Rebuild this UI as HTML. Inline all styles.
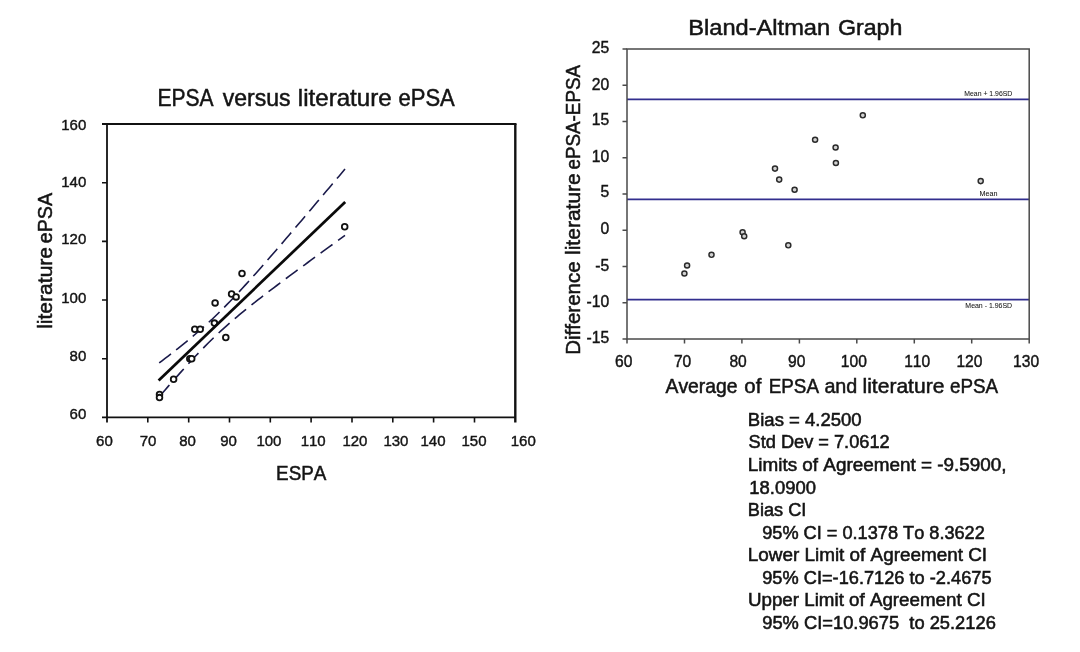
<!DOCTYPE html>
<html lang="en"><head><meta charset="utf-8"><title>Bland-Altman</title>
<style>html,body{margin:0;padding:0;background:#fff}body{width:1080px;height:652px;overflow:hidden}svg{display:block}text{font-family:"Liberation Sans",sans-serif;fill:#141414;stroke:#141414;font-kerning:none;white-space:pre}</style>
</head><body>
<svg width="1080" height="652" viewBox="0 0 1080 652">
<rect width="1080" height="652" fill="#fff"/>
<g id="left-chart">
<g stroke="#111" fill="none">
<line x1="102" y1="124" x2="516.5" y2="124" stroke-width="2.2"/>
<line x1="515.3" y1="124" x2="515.3" y2="422.4" stroke-width="2.4"/>
<line x1="107" y1="124" x2="107" y2="422.4" stroke-width="1.8"/>
<line x1="102" y1="417.4" x2="515.3" y2="417.4" stroke-width="1.8"/>
<path d="M147.8 417.4V422.4M188.7 417.4V422.4M229.5 417.4V422.4M270.3 417.4V422.4M311.1 417.4V422.4M352.0 417.4V422.4M392.8 417.4V422.4M433.6 417.4V422.4M474.5 417.4V422.4M102 182.7H107M102 241.4H107M102 300.0H107M102 358.7H107" stroke-width="1.6"/>
</g>
<text x="157.43" y="106.3" font-size="23.2" stroke-width="0.5" textLength="56.06" lengthAdjust="spacingAndGlyphs">EPSA</text>
<text x="222.77" y="106.3" font-size="23.2" stroke-width="0.5" textLength="67.81" lengthAdjust="spacingAndGlyphs">versus</text>
<text x="297.83" y="106.3" font-size="23.2" stroke-width="0.5" textLength="93.80" lengthAdjust="spacingAndGlyphs">literature</text>
<text x="398.52" y="106.3" font-size="23.2" stroke-width="0.5" textLength="56.28" lengthAdjust="spacingAndGlyphs">ePSA</text>
<text x="86.3" y="130" font-size="15.0" text-anchor="end" stroke-width="0.42">160</text>
<text x="86.3" y="187.4" font-size="15.0" text-anchor="end" stroke-width="0.42">140</text>
<text x="86.3" y="244.2" font-size="15.0" text-anchor="end" stroke-width="0.42">120</text>
<text x="86.3" y="302.8" font-size="15.0" text-anchor="end" stroke-width="0.42">100</text>
<text x="86.3" y="360.8" font-size="15.0" text-anchor="end" stroke-width="0.42">80</text>
<text x="86.3" y="418.9" font-size="15.0" text-anchor="end" stroke-width="0.42">60</text>
<text x="104.4" y="446.3" font-size="15.0" text-anchor="middle" stroke-width="0.42">60</text>
<text x="148" y="446.3" font-size="15.0" text-anchor="middle" stroke-width="0.42">70</text>
<text x="187.6" y="446.3" font-size="15.0" text-anchor="middle" stroke-width="0.42">80</text>
<text x="228.6" y="446.3" font-size="15.0" text-anchor="middle" stroke-width="0.42">90</text>
<text x="268.9" y="446.3" font-size="15.0" text-anchor="middle" stroke-width="0.42">100</text>
<text x="313.2" y="446.3" font-size="15.0" text-anchor="middle" stroke-width="0.42">110</text>
<text x="354.9" y="446.3" font-size="15.0" text-anchor="middle" stroke-width="0.42">120</text>
<text x="395.9" y="446.3" font-size="15.0" text-anchor="middle" stroke-width="0.42">130</text>
<text x="433" y="446.3" font-size="15.0" text-anchor="middle" stroke-width="0.42">140</text>
<text x="474" y="446.3" font-size="15.0" text-anchor="middle" stroke-width="0.42">150</text>
<text x="523.3" y="446.3" font-size="15.0" text-anchor="middle" stroke-width="0.42">160</text>
<text x="276.10" y="480.3" font-size="19.8" stroke-width="0.5" textLength="50.28" lengthAdjust="spacingAndGlyphs">ESPA</text>
<text transform="translate(52.4 328.87) rotate(-90)" font-size="20.6" stroke-width="0.5" textLength="81.96" lengthAdjust="spacingAndGlyphs">literature</text>
<text transform="translate(52.4 243.29) rotate(-90)" font-size="20.6" stroke-width="0.5" textLength="50.48" lengthAdjust="spacingAndGlyphs">ePSA</text>
<path d="M158.9 363.2 L162.0 360.8 L165.1 358.4 L168.2 356.1 L171.3 353.7 L174.4 351.2 L177.5 348.8 L180.6 346.3 L183.7 343.8 L186.8 341.3 L189.9 338.7 L193.0 336.2 L196.1 333.5 L199.2 330.9 L202.3 328.1 L205.4 325.4 L208.5 322.5 L211.6 319.7 L214.7 316.7 L217.8 313.7 L220.9 310.7 L224.0 307.6 L227.1 304.4 L230.2 301.2 L233.3 298.0 L236.4 294.7 L239.5 291.4 L242.6 288.0 L245.7 284.6 L248.8 281.2 L251.9 277.7 L255.1 274.2 L258.2 270.7 L261.3 267.2 L264.4 263.7 L267.5 260.1 L270.6 256.5 L273.7 253.0 L276.8 249.4 L279.9 245.8 L283.0 242.2 L286.1 238.5 L289.2 234.9 L292.3 231.3 L295.4 227.7 L298.5 224.0 L301.6 220.4 L304.7 216.7 L307.8 213.1 L310.9 209.4 L314.0 205.8 L317.1 202.1 L320.2 198.4 L323.3 194.7 L326.4 191.1 L329.5 187.4 L332.6 183.7 L335.7 180.0 L338.8 176.4 L341.9 172.7 L345.0 169.0" fill="none" stroke="#1a1a4a" stroke-width="1.6" stroke-dasharray="14.8 6.6" stroke-dashoffset="-0.4"/>
<path d="M158.9 397.0 L162.0 393.5 L165.1 389.9 L168.2 386.4 L171.3 382.9 L174.4 379.3 L177.5 375.9 L180.6 372.4 L183.7 369.0 L186.8 365.6 L189.9 362.2 L193.0 358.8 L196.1 355.5 L199.2 352.3 L202.3 349.1 L205.4 345.9 L208.5 342.8 L211.6 339.7 L214.7 336.7 L217.8 333.8 L220.9 330.9 L224.0 328.1 L227.1 325.3 L230.2 322.6 L233.3 319.9 L236.4 317.3 L239.5 314.7 L242.6 312.1 L245.7 309.6 L248.8 307.1 L251.9 304.6 L255.1 302.2 L258.2 299.7 L261.3 297.3 L264.4 294.9 L267.5 292.5 L270.6 290.2 L273.7 287.8 L276.8 285.5 L279.9 283.2 L283.0 280.8 L286.1 278.5 L289.2 276.2 L292.3 273.9 L295.4 271.6 L298.5 269.3 L301.6 267.0 L304.7 264.8 L307.8 262.5 L310.9 260.2 L314.0 257.9 L317.1 255.7 L320.2 253.4 L323.3 251.1 L326.4 248.9 L329.5 246.6 L332.6 244.4 L335.7 242.1 L338.8 239.9 L341.9 237.6 L345.0 235.4" fill="none" stroke="#1a1a4a" stroke-width="1.6" stroke-dasharray="14.7 6.9" stroke-dashoffset="-1.2"/>
<g fill="#fff" stroke="#111" stroke-width="1.8">
<circle cx="159.5" cy="394.5" r="2.85"/>
<circle cx="159.5" cy="397.6" r="2.85"/>
<circle cx="173.6" cy="379.3" r="2.85"/>
<circle cx="189.8" cy="358.7" r="2.85"/>
<circle cx="191.7" cy="358.7" r="2.85"/>
<circle cx="194.8" cy="329.3" r="2.85"/>
<circle cx="200.2" cy="329.3" r="2.85"/>
<circle cx="214.4" cy="323.1" r="2.85"/>
<circle cx="215.1" cy="302.9" r="2.85"/>
<circle cx="225.8" cy="337.5" r="2.85"/>
<circle cx="231.6" cy="294" r="2.85"/>
<circle cx="236.1" cy="296.9" r="2.85"/>
<circle cx="242" cy="273.5" r="2.85"/>
<circle cx="344.7" cy="226.8" r="2.85"/>
</g>
<line x1="158.6" y1="380.4" x2="345.2" y2="202.0" stroke="#0a0a0a" stroke-width="2.75"/>
</g>
<g id="right-chart">
<line x1="627" y1="99.4" x2="1029.2" y2="99.4" stroke="#322e8e" stroke-width="1.75"/>
<line x1="627" y1="199.4" x2="1029.2" y2="199.4" stroke="#322e8e" stroke-width="1.75"/>
<line x1="627" y1="299.6" x2="1029.2" y2="299.6" stroke="#322e8e" stroke-width="1.75"/>
<g stroke="#4a4a4a" fill="none" stroke-width="1.5">
<rect x="627" y="49" width="402.20000000000005" height="290"/>
<path d="M627.0 339V343.5M684.5 339V343.5M741.9 339V343.5M799.4 339V343.5M856.8 339V343.5M914.3 339V343.5M971.7 339V343.5M1029.2 339V343.5M622.5 49.0H627M622.5 85.2H627M622.5 121.5H627M622.5 157.8H627M622.5 194.0H627M622.5 230.2H627M622.5 266.5H627M622.5 302.8H627M622.5 339.0H627"/>
</g>
<text x="688.31" y="35.1" font-size="22.4" stroke-width="0.5" textLength="141.87" lengthAdjust="spacingAndGlyphs">Bland-Altman</text>
<text x="837.99" y="35.1" font-size="22.4" stroke-width="0.5" textLength="64.37" lengthAdjust="spacingAndGlyphs">Graph</text>
<text x="609.2" y="53.3" font-size="15.7" text-anchor="end" stroke-width="0.42">25</text>
<text x="609.2" y="89.8" font-size="15.7" text-anchor="end" stroke-width="0.42">20</text>
<text x="609.2" y="124.6" font-size="15.7" text-anchor="end" stroke-width="0.42">15</text>
<text x="609.2" y="162.3" font-size="15.7" text-anchor="end" stroke-width="0.42">10</text>
<text x="609.2" y="196.7" font-size="15.7" text-anchor="end" stroke-width="0.42">5</text>
<text x="609.2" y="233.5" font-size="15.7" text-anchor="end" stroke-width="0.42">0</text>
<text x="609.2" y="270.5" font-size="15.7" text-anchor="end" stroke-width="0.42">-5</text>
<text x="609.2" y="306.6" font-size="15.7" text-anchor="end" stroke-width="0.42">-10</text>
<text x="609.2" y="343.4" font-size="15.7" text-anchor="end" stroke-width="0.42">-15</text>
<text x="623.7" y="366.7" font-size="15.6" text-anchor="middle" stroke-width="0.42">60</text>
<text x="682.6" y="366.7" font-size="15.6" text-anchor="middle" stroke-width="0.42">70</text>
<text x="738.1" y="366.7" font-size="15.6" text-anchor="middle" stroke-width="0.42">80</text>
<text x="796.7" y="366.7" font-size="15.6" text-anchor="middle" stroke-width="0.42">90</text>
<text x="853.8" y="366.7" font-size="15.6" text-anchor="middle" stroke-width="0.42">100</text>
<text x="917.2" y="366.7" font-size="15.6" text-anchor="middle" stroke-width="0.42">110</text>
<text x="969.4" y="366.7" font-size="15.6" text-anchor="middle" stroke-width="0.42">120</text>
<text x="1026.1" y="366.7" font-size="15.6" text-anchor="middle" stroke-width="0.42">130</text>
<text x="665.51" y="393.3" font-size="19.8" stroke-width="0.5" textLength="72.10" lengthAdjust="spacingAndGlyphs">Average</text>
<text x="744.39" y="393.3" font-size="19.8" stroke-width="0.5" textLength="17.03" lengthAdjust="spacingAndGlyphs">of</text>
<text x="768.70" y="393.3" font-size="19.8" stroke-width="0.5" textLength="50.28" lengthAdjust="spacingAndGlyphs">EPSA</text>
<text x="824.41" y="393.3" font-size="19.8" stroke-width="0.5" textLength="32.91" lengthAdjust="spacingAndGlyphs">and</text>
<text x="862.53" y="393.3" font-size="19.8" stroke-width="0.5" textLength="81.85" lengthAdjust="spacingAndGlyphs">literature</text>
<text x="949.95" y="393.3" font-size="19.8" stroke-width="0.5" textLength="48.14" lengthAdjust="spacingAndGlyphs">ePSA</text>
<text transform="translate(579.5 354.83) rotate(-90)" font-size="20.2" stroke-width="0.5" textLength="93.49" lengthAdjust="spacingAndGlyphs">Difference</text>
<text transform="translate(579.5 254.97) rotate(-90)" font-size="20.2" stroke-width="0.5" textLength="81.75" lengthAdjust="spacingAndGlyphs">literature</text>
<text transform="translate(579.5 169.55) rotate(-90)" font-size="20.2" stroke-width="0.5" textLength="104.64" lengthAdjust="spacingAndGlyphs">ePSA-EPSA</text>
<text x="964.26" y="95.6" font-size="6.7" stroke-width="0.05" textLength="48.04" lengthAdjust="spacingAndGlyphs" fill="#606060" stroke="#606060">Mean + 1.96SD</text>
<text x="979.43" y="195.7" font-size="6.7" stroke-width="0.05" textLength="18.01" lengthAdjust="spacingAndGlyphs" fill="#606060" stroke="#606060">Mean</text>
<text x="965.35" y="307.6" font-size="6.7" stroke-width="0.05" textLength="46.75" lengthAdjust="spacingAndGlyphs" fill="#606060" stroke="#606060">Mean - 1.96SD</text>
<g fill="#d2d2d2" stroke="#2a2a2a" stroke-width="1.45">
<circle cx="684.4" cy="273.5" r="2.55"/>
<circle cx="687.1" cy="265.5" r="2.55"/>
<circle cx="711.5" cy="254.8" r="2.55"/>
<circle cx="742.6" cy="232.3" r="2.55"/>
<circle cx="744.2" cy="236.2" r="2.55"/>
<circle cx="788.3" cy="245.3" r="2.55"/>
<circle cx="775" cy="168.6" r="2.55"/>
<circle cx="779.2" cy="179.6" r="2.55"/>
<circle cx="794.6" cy="189.7" r="2.55"/>
<circle cx="815.1" cy="139.7" r="2.55"/>
<circle cx="835.6" cy="147.5" r="2.55"/>
<circle cx="835.9" cy="163" r="2.55"/>
<circle cx="862.8" cy="115.3" r="2.55"/>
<circle cx="980.7" cy="181.1" r="2.55"/>
</g>
</g>
<g id="stats">
<text x="747.86" y="426" font-size="18" stroke-width="0.55" textLength="113.79" lengthAdjust="spacingAndGlyphs">Bias = 4.2500</text>
<text x="748.55" y="448.4" font-size="18" stroke-width="0.55" textLength="141.09" lengthAdjust="spacingAndGlyphs">Std Dev = 7.0612</text>
<text x="747.83" y="471" font-size="18" stroke-width="0.55" textLength="258.59" lengthAdjust="spacingAndGlyphs">Limits of Agreement = -9.5900,</text>
<text x="749.37" y="493.5" font-size="18" stroke-width="0.55" textLength="66.57" lengthAdjust="spacingAndGlyphs">18.0900</text>
<text x="747.89" y="516" font-size="18" stroke-width="0.55" textLength="58.51" lengthAdjust="spacingAndGlyphs">Bias CI</text>
<text x="762.22" y="538.5" font-size="18" stroke-width="0.55" textLength="222.61" lengthAdjust="spacingAndGlyphs">95% CI = 0.1378 To 8.3622</text>
<text x="747.83" y="561" font-size="18" stroke-width="0.55" textLength="239.24" lengthAdjust="spacingAndGlyphs">Lower Limit of Agreement CI</text>
<text x="762.22" y="583.5" font-size="18" stroke-width="0.55" textLength="229.37" lengthAdjust="spacingAndGlyphs">95% CI=-16.7126 to -2.4675</text>
<text x="747.93" y="606" font-size="18" stroke-width="0.55" textLength="237.73" lengthAdjust="spacingAndGlyphs">Upper Limit of Agreement CI</text>
<text x="762.22" y="628.5" font-size="18" stroke-width="0.55" textLength="233.61" lengthAdjust="spacingAndGlyphs">95% CI=10.9675  to 25.2126</text>
</g>
</svg></body></html>
